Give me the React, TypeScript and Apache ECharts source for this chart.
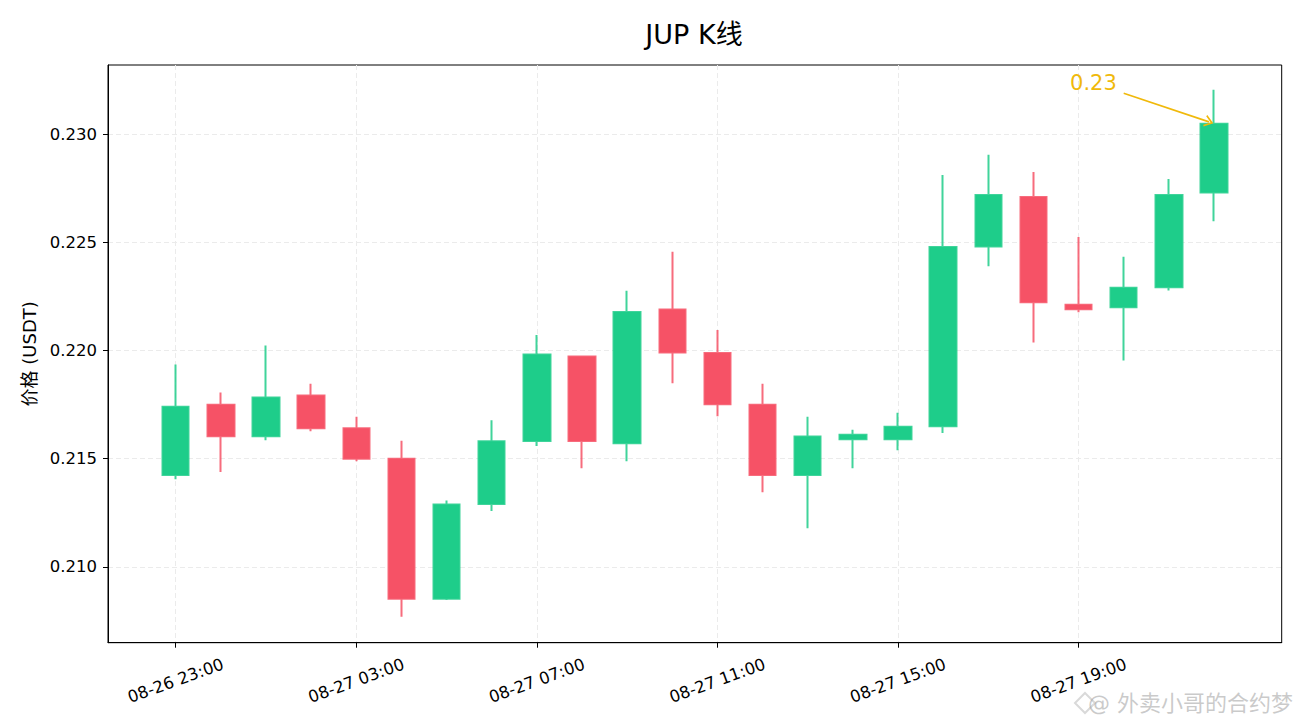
import React, { useEffect, useRef } from "react";
import * as echarts from "echarts";

const times = [
  "08-26 23:00", "08-27 00:00", "08-27 01:00", "08-27 02:00", "08-27 03:00", "08-27 04:00",
  "08-27 05:00", "08-27 06:00", "08-27 07:00", "08-27 08:00", "08-27 09:00", "08-27 10:00",
  "08-27 11:00", "08-27 12:00", "08-27 13:00", "08-27 14:00", "08-27 15:00", "08-27 16:00",
  "08-27 17:00", "08-27 18:00", "08-27 19:00", "08-27 20:00", "08-27 21:00", "08-27 22:00",
];
const opens = [
  0.21424, 0.21749, 0.21604, 0.21792, 0.2164, 0.215, 0.20852, 0.2129, 0.21581, 0.21972, 0.21571, 0.22189,
  0.21989, 0.21749, 0.21424, 0.2159, 0.2159, 0.2165, 0.22481, 0.2271, 0.22212, 0.222, 0.22292, 0.2273,
];
const closes = [
  0.2174, 0.21604, 0.21783, 0.21641, 0.215, 0.20852, 0.21288, 0.2158, 0.21981, 0.21581, 0.22178, 0.21991,
  0.21751, 0.21424, 0.21602, 0.21611, 0.21648, 0.22479, 0.22719, 0.22223, 0.22191, 0.2229, 0.22719, 0.23048,
];
const lows = [
  0.21405, 0.21438, 0.21585, 0.21627, 0.21488, 0.20769, 0.20846, 0.21258, 0.21558, 0.21456, 0.21488, 0.21848,
  0.21696, 0.21345, 0.21178, 0.21456, 0.21539, 0.21618, 0.22389, 0.22037, 0.22177, 0.21954, 0.22277, 0.22597,
];
const highs = [
  0.21935, 0.21806, 0.22023, 0.21846, 0.21694, 0.21583, 0.21307, 0.21677, 0.22072, 0.21975, 0.22276, 0.22456,
  0.22095, 0.21846, 0.21694, 0.21634, 0.21712, 0.22811, 0.22905, 0.22825, 0.22525, 0.22433, 0.22793, 0.23205,
];
const xTickIndex = [0, 4, 8, 12, 16, 20];
const yTicks = [0.21, 0.215, 0.22, 0.225, 0.23];
const annotationText = "0.23";
const annotationTextPos = [20.33, 0.23235];
const arrowFrom = [21.0, 0.23189];
const arrowTo = [22.89, 0.23057];

const FONT = "'DejaVu Sans', 'Noto Sans CJK SC', sans-serif";
const UP = "#1ecd8a";
const DOWN = "#f65266";
const GOLD = "#f0b90b";

export default function App() {
  const ref = useRef<HTMLDivElement>(null);
  useEffect(() => {
    if (!ref.current) return;
    const chart = echarts.init(ref.current, null, { renderer: "svg" });
    const data = times.map((_, i) => [i, opens[i], closes[i], lows[i], highs[i]]);
    chart.setOption({
      animation: false,
      backgroundColor: "#fff",
      textStyle: { fontFamily: FONT },
      grid: {
        left: 108,
        right: 18.3,
        top: 65,
        bottom: 85.3,
        show: true,
        borderColor: "#000",
        borderWidth: 1,
        backgroundColor: "transparent",
      },
      graphic: [
        {
          type: "text",
          x: 694,
          y: 34,
          style: {
            text: "JUP K线",
            fontSize: 27,
            fontFamily: FONT,
            fill: "#000",
            textAlign: "center",
            textVerticalAlign: "middle",
          },
        },
        {
          type: "polygon",
          shape: { points: [[1085, 693], [1095, 703], [1085, 713], [1075, 703]] },
          style: { fill: "none", stroke: "rgba(170,170,170,0.45)", lineWidth: 2 },
        },
        {
          type: "text",
          x: 1293,
          y: 703,
          style: {
            text: "@ 外卖小哥的合约梦",
            fontSize: 22,
            fontFamily: FONT,
            fill: "rgba(150,150,150,0.5)",
            textAlign: "right",
            textVerticalAlign: "middle",
          },
        },
      ],
      xAxis: {
        type: "value",
        min: -1.5,
        max: 24.5,
        axisLine: { show: true, onZero: false, lineStyle: { color: "#000", width: 1 } },
        axisTick: {
          show: true,
          length: 5,
          customValues: xTickIndex,
          lineStyle: { color: "#000", width: 1 },
        },
        axisLabel: {
          customValues: xTickIndex,
          formatter: (v: number) => times[Math.round(v)] ?? "",
          rotate: 20,
          align: "center",
          verticalAlign: "middle",
          margin: 38,
          fontSize: 16.5,
          color: "#000",
          fontFamily: FONT,
        },
        splitLine: { show: true, lineStyle: { color: "#ebebeb", width: 1, type: [5, 3] } },
      },
      yAxis: {
        type: "value",
        min: 0.20649,
        max: 0.2332,
        scale: true,
        name: "价格 (USDT)",
        nameLocation: "middle",
        nameGap: 70,
        nameTextStyle: { fontSize: 18, color: "#000", fontFamily: FONT },
        axisLine: { show: true, onZero: false, lineStyle: { color: "#000", width: 1 } },
        axisTick: {
          show: true,
          length: 5,
          customValues: yTicks,
          lineStyle: { color: "#000", width: 1 },
        },
        axisLabel: {
          customValues: yTicks,
          formatter: (v: number) => v.toFixed(3),
          margin: 11,
          fontSize: 16.5,
          color: "#000",
          fontFamily: FONT,
        },
        splitLine: { show: true, lineStyle: { color: "#ebebeb", width: 1, type: [5, 3] } },
      },
      series: [
        {
          type: "candlestick",
          data,
          barWidth: 27,
          itemStyle: {
            color: UP,
            color0: DOWN,
            borderColor: "rgba(30,205,138,0.85)",
            borderColor0: "rgba(246,82,102,0.85)",
            borderWidth: 2,
          },
          markPoint: {
            silent: true,
            symbol: "rect",
            symbolSize: 1,
            itemStyle: { color: "transparent" },
            label: {
              show: true,
              position: "inside",
              formatter: annotationText,
              color: GOLD,
              fontSize: 21,
              fontFamily: FONT,
            },
            data: [{ coord: annotationTextPos }],
          },
          markLine: {
            silent: true,
            symbol: ["none", "path://M5,0 L10,9 L8.8,9.8 L5,3 L1.2,9.8 L0,9 Z"],
            symbolSize: [12, 9],
            lineStyle: { color: GOLD, width: 1.6, type: "solid" },
            label: { show: false },
            data: [[{ coord: arrowFrom }, { coord: arrowTo }]],
          },
        },
      ],
    });
    return () => chart.dispose();
  }, []);
  return (
    <div
      ref={ref}
      style={{ position: "fixed", left: 0, top: 0, width: 1300, height: 728 }}
    />
  );
}
